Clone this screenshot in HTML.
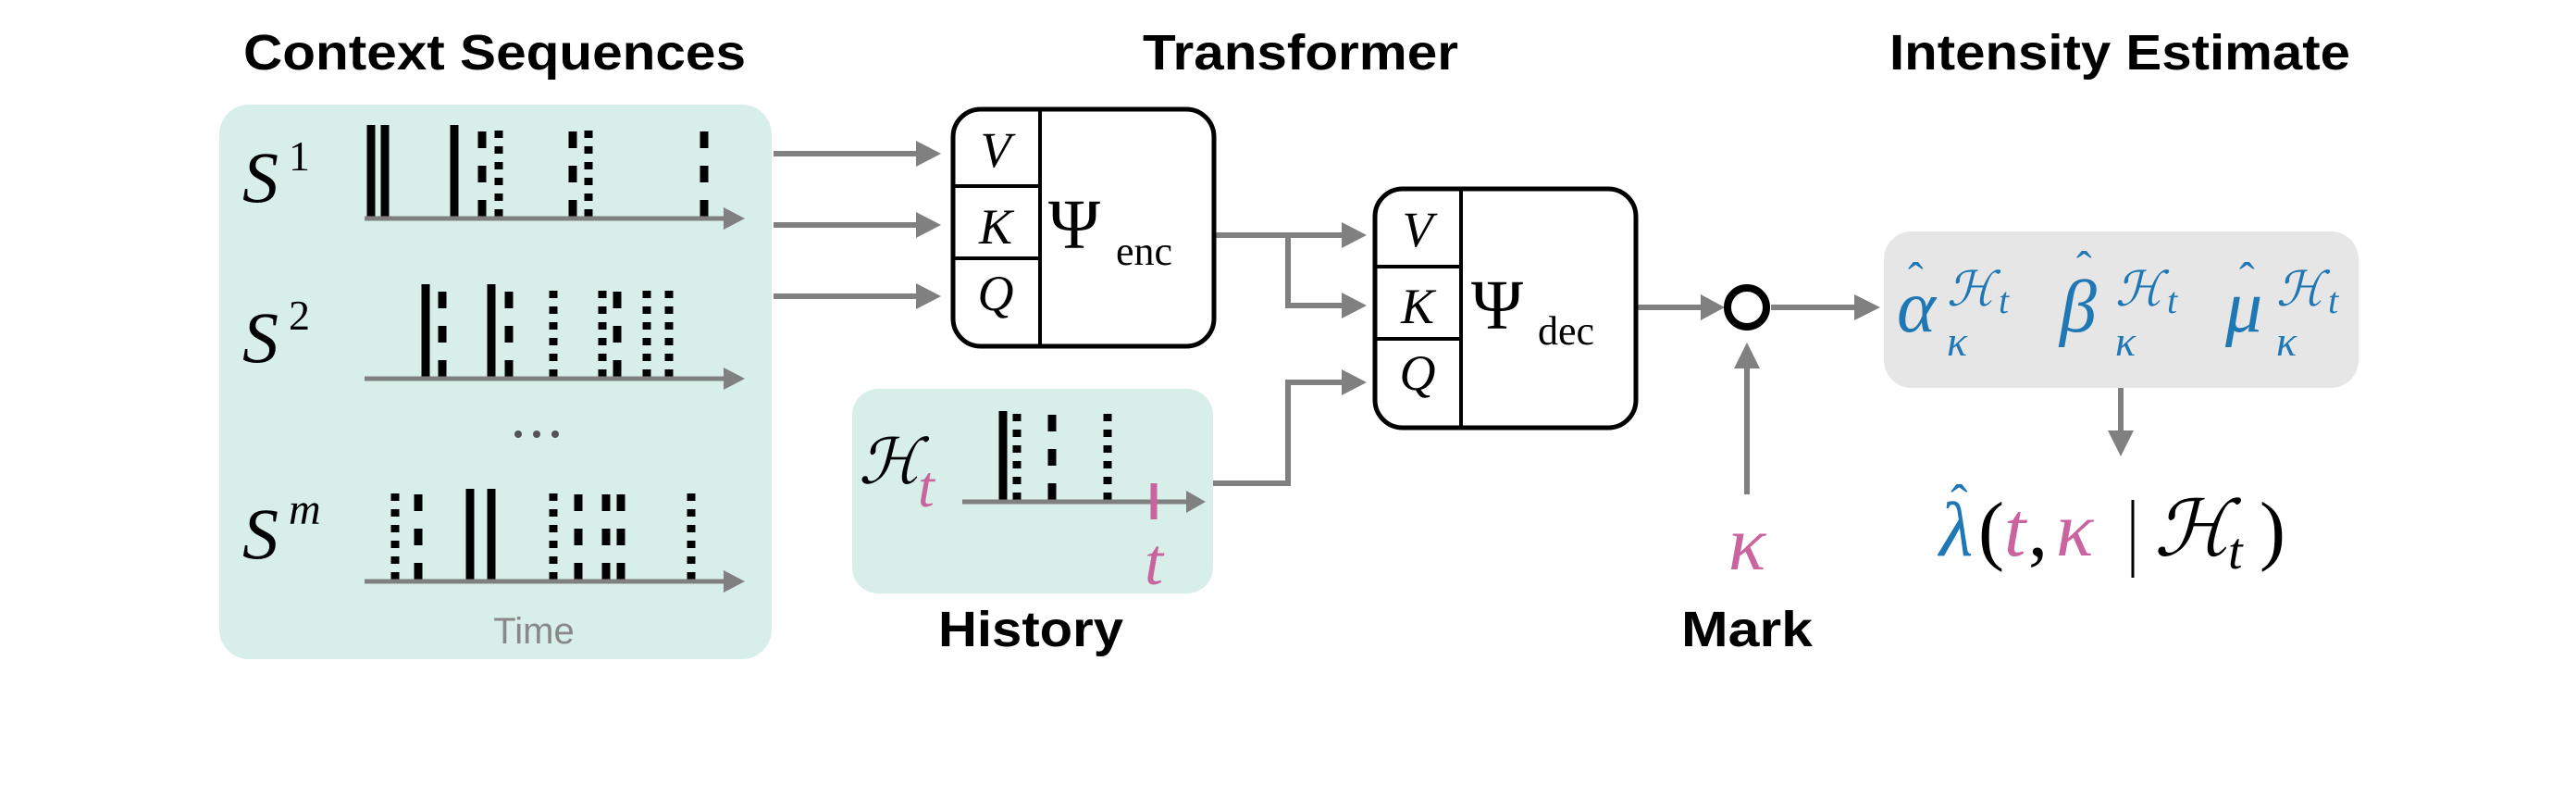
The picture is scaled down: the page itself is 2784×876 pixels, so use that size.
<!DOCTYPE html>
<html><head><meta charset="utf-8"><style>
html,body{margin:0;padding:0;background:#fff;width:2784px;height:876px;overflow:hidden}
svg{display:block}
.h{font-family:"Liberation Sans",sans-serif;font-weight:bold;font-size:54px;fill:#000}
.m{font-family:"Liberation Serif","DejaVu Serif",serif;font-style:italic}
.r{font-family:"Liberation Serif","DejaVu Serif",serif}
</style></head><body>
<svg width="2784" height="876" viewBox="0 0 2784 876" xmlns="http://www.w3.org/2000/svg">
<text class="h" x="263" y="75" textLength="543" lengthAdjust="spacingAndGlyphs">Context Sequences</text>
<text class="h" x="1235" y="75" textLength="341" lengthAdjust="spacingAndGlyphs">Transformer</text>
<text class="h" x="2042" y="75" textLength="498" lengthAdjust="spacingAndGlyphs">Intensity Estimate</text>

<rect x="237" y="113" width="597" height="599" rx="32" fill="#d8efe9"/>
<g class="m" font-size="78" fill="#000">
<text x="262" y="218">S</text><text class="r" x="312" y="184" font-size="46" font-style="normal">1</text>
<text x="262" y="391">S</text><text class="r" x="312" y="356" font-size="46" font-style="normal">2</text>
<text x="262" y="603">S</text><text x="312" y="566" font-size="48">m</text>
</g>
<g fill="#555"><circle cx="560" cy="469" r="4"/><circle cx="580" cy="469" r="4"/><circle cx="600" cy="469" r="4"/></g>
<text x="577" y="695" text-anchor="middle" font-family="Liberation Sans,sans-serif" font-size="40" fill="#888">Time</text>

<g stroke="#000" stroke-width="9" fill="none">
<line x1="401" y1="234" x2="401" y2="135"/><line x1="416" y1="234" x2="416" y2="135"/><line x1="491" y1="234" x2="491" y2="135"/>
<line x1="521" y1="234" x2="521" y2="135" stroke-dasharray="18 19"/><line x1="539" y1="234" x2="539" y2="135" stroke-dasharray="8 9"/>
<line x1="619" y1="234" x2="619" y2="135" stroke-dasharray="18 19"/><line x1="636" y1="234" x2="636" y2="135" stroke-dasharray="8 9"/>
<line x1="761" y1="234" x2="761" y2="135" stroke-dasharray="18 19"/>
<line x1="460" y1="407" x2="460" y2="307"/><line x1="478" y1="407" x2="478" y2="307" stroke-dasharray="18 19"/>
<line x1="531" y1="407" x2="531" y2="307"/><line x1="550" y1="407" x2="550" y2="307" stroke-dasharray="18 19"/>
<line x1="598" y1="407" x2="598" y2="307" stroke-dasharray="8 9"/><line x1="651" y1="407" x2="651" y2="307" stroke-dasharray="8 9"/>
<line x1="667" y1="407" x2="667" y2="307" stroke-dasharray="18 19"/><line x1="699" y1="407" x2="699" y2="307" stroke-dasharray="8 9"/>
<line x1="723" y1="407" x2="723" y2="307" stroke-dasharray="8 9"/>
<line x1="427" y1="626" x2="427" y2="528" stroke-dasharray="8 9"/><line x1="452" y1="626" x2="452" y2="528" stroke-dasharray="18 19"/>
<line x1="508" y1="626" x2="508" y2="528"/><line x1="531" y1="626" x2="531" y2="528"/>
<line x1="598" y1="626" x2="598" y2="528" stroke-dasharray="8 9"/><line x1="625" y1="626" x2="625" y2="528" stroke-dasharray="18 19"/>
<line x1="655" y1="626" x2="655" y2="528" stroke-dasharray="18 19"/><line x1="671" y1="626" x2="671" y2="528" stroke-dasharray="18 19"/>
<line x1="747" y1="626" x2="747" y2="528" stroke-dasharray="8 9"/>
</g>
<g stroke="#808080" stroke-width="5" fill="#808080">
<line x1="394" y1="236" x2="785" y2="236"/><polygon stroke="none" points="782,224 805,236 782,248"/>
<line x1="394" y1="409" x2="785" y2="409"/><polygon stroke="none" points="782,397 805,409 782,421"/>
<line x1="394" y1="628" x2="785" y2="628"/><polygon stroke="none" points="782,616 805,628 782,640"/>
</g>

<g stroke="#808080" stroke-width="6" fill="none">
<line x1="836" y1="166" x2="995" y2="166"/><line x1="836" y1="243" x2="995" y2="243"/><line x1="836" y1="320" x2="995" y2="320"/>
<polyline points="1313,254 1392,254 1392,330 1460,330"/>
<line x1="1392" y1="254" x2="1460" y2="254"/>
<polyline points="1311,522 1392,522 1392,413 1460,413"/>
<line x1="1768" y1="332" x2="1845" y2="332"/>
<line x1="1914" y1="332" x2="2010" y2="332"/>
<line x1="1888" y1="534" x2="1888" y2="385"/>
<line x1="2292" y1="419" x2="2292" y2="470"/>
</g>
<g fill="#808080">
<polygon points="990,152 1017,166 990,180"/><polygon points="990,229 1017,243 990,257"/><polygon points="990,306 1017,320 990,334"/>
<polygon points="1450,240 1477,254 1450,268"/><polygon points="1450,316 1477,330 1450,344"/><polygon points="1450,399 1477,413 1450,427"/>
<polygon points="1838,318 1864,332 1838,346"/>
<polygon points="2004,318 2032,332 2004,346"/>
<polygon points="1874,398 1888,370 1902,398"/>
<polygon points="2278,465 2292,493 2306,465"/>
</g>

<rect x="1030" y="118" width="282" height="256" rx="30" fill="#fff" stroke="#000" stroke-width="5"/>
<g stroke="#000" stroke-width="4"><line x1="1124" y1="118" x2="1124" y2="374"/><line x1="1030" y1="201" x2="1124" y2="201"/><line x1="1030" y1="279" x2="1124" y2="279"/></g>
<g class="m" font-size="54" text-anchor="middle"><text x="1076" y="180">V</text><text x="1076" y="263">K</text><text x="1076" y="335">Q</text></g>
<text class="r" x="1133" y="268" font-size="76">Ψ</text><text class="r" x="1206" y="286" font-size="44">enc</text>

<rect x="1486" y="204" width="282" height="258" rx="30" fill="#fff" stroke="#000" stroke-width="5"/>
<g stroke="#000" stroke-width="4"><line x1="1579" y1="204" x2="1579" y2="462"/><line x1="1486" y1="288" x2="1579" y2="288"/><line x1="1486" y1="366" x2="1579" y2="366"/></g>
<g class="m" font-size="54" text-anchor="middle"><text x="1532" y="266">V</text><text x="1532" y="349">K</text><text x="1532" y="421">Q</text></g>
<text class="r" x="1590" y="355" font-size="76">Ψ</text><text class="r" x="1662" y="372" font-size="44">dec</text>

<rect x="921" y="420" width="390" height="221" rx="28" fill="#d8efe9"/>
<text class="m" x="928" y="522" font-size="68">ℋ</text>
<text class="m" x="992" y="547" font-size="64" fill="#c9649f">t</text>
<g stroke="#000" stroke-width="9">
<line x1="1084" y1="540" x2="1084" y2="444"/><line x1="1099" y1="540" x2="1099" y2="444" stroke-dasharray="8 9"/>
<line x1="1137" y1="540" x2="1137" y2="444" stroke-dasharray="18 19"/><line x1="1197" y1="540" x2="1197" y2="444" stroke-dasharray="8 9"/>
</g>
<line x1="1040" y1="542" x2="1285" y2="542" stroke="#808080" stroke-width="5"/><polygon points="1282,530 1303,542 1282,554" fill="#808080"/>
<line x1="1247" y1="522" x2="1247" y2="561" stroke="#c9649f" stroke-width="7"/>
<text class="m" x="1247" y="631" font-size="72" fill="#c9649f" text-anchor="middle">t</text>
<text class="h" x="1114" y="698" text-anchor="middle" textLength="200" lengthAdjust="spacingAndGlyphs">History</text>

<circle cx="1888" cy="332" r="21" fill="#fff" stroke="#000" stroke-width="8"/>
<text class="m" x="1888" y="615" font-size="84" fill="#c9649f" text-anchor="middle">κ</text>
<text class="h" x="1888" y="698" text-anchor="middle" textLength="142" lengthAdjust="spacingAndGlyphs">Mark</text>

<rect x="2036" y="250" width="513" height="169" rx="30" fill="#e6e6e6"/>
<g class="m" fill="#1f77b4">
<text x="2050" y="358" font-size="80">α</text><text class="r" x="2062" y="318" font-size="50" font-style="normal">ˆ</text>
<text x="2104" y="330" font-size="52">ℋ</text><text x="2160" y="338" font-size="40">t</text><text x="2104" y="384" font-size="46">κ</text>
<text x="2226" y="358" font-size="80">β</text><text class="r" x="2244" y="306" font-size="50" font-style="normal">ˆ</text>
<text x="2286" y="330" font-size="52">ℋ</text><text x="2342" y="338" font-size="40">t</text><text x="2286" y="384" font-size="46">κ</text>
<text x="2405" y="358" font-size="80">μ</text><text class="r" x="2420" y="318" font-size="50" font-style="normal">ˆ</text>
<text x="2460" y="330" font-size="52">ℋ</text><text x="2516" y="338" font-size="40">t</text><text x="2460" y="384" font-size="46">κ</text>
</g>
<g font-size="84">
<text class="m" x="2096" y="600" fill="#1f77b4">λ</text><text class="r" x="2108" y="562" font-size="56" fill="#1f77b4">ˆ</text>
<text class="r" x="2138" y="600">(</text>
<text class="m" x="2166" y="600" fill="#c9649f">t</text>
<text class="r" x="2192" y="600">,</text>
<text class="m" x="2222" y="600" fill="#c9649f">κ</text>
<line x1="2305" y1="540" x2="2305" y2="624" stroke="#000" stroke-width="3"/>
<text class="m" x="2328" y="600">ℋ</text>
<text class="m" x="2408" y="614" font-size="56">t</text>
<text class="r" x="2442" y="600">)</text>
</g>
</svg>
</body></html>
